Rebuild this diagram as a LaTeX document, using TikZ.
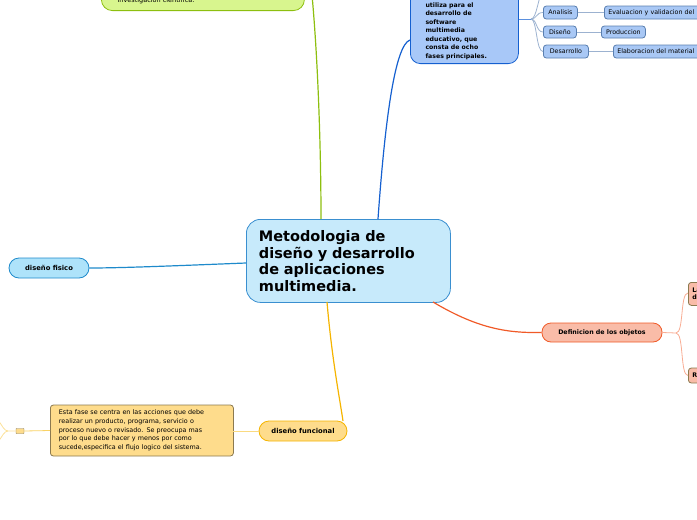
\documentclass[tikz,border=0pt]{standalone}
\usepackage{fontspec}
\setmainfont{DejaVu Sans}
\begin{document}
\begin{tikzpicture}[x=1pt,y=-1pt,
  box/.style={draw,rounded corners=3pt,line width=0.8pt,font=\fontsize{6.3}{7}\selectfont,inner sep=0pt},
  conn/.style={line width=1.2pt},
  sub/.style={line width=0.8pt}]
\definecolor{cfill}{HTML}{C7EAFB}\definecolor{cline}{HTML}{3A8FD0}
\definecolor{gfill}{HTML}{D8F58E}\definecolor{gline}{HTML}{8DBF0F}
\definecolor{bfill}{HTML}{A8C8F8}\definecolor{bline}{HTML}{1560D0}
\definecolor{sfill}{HTML}{A9C8F5}\definecolor{sline}{HTML}{5A7FB0}
\definecolor{ffill}{HTML}{AEE3FA}\definecolor{fline}{HTML}{1E8ACB}
\definecolor{rfill}{HTML}{F9BCA8}\definecolor{rline}{HTML}{F05A28}
\definecolor{yfill}{HTML}{FEDC8C}\definecolor{yline}{HTML}{F5B400}
\definecolor{tline}{HTML}{8C7A50}
\useasboundingbox (0,0) rectangle (697,520);
\clip (0,0) rectangle (697,520);
% central
\node[box,fill=cfill,draw=cline,rounded corners=14pt,minimum width=204pt,minimum height=83pt,anchor=north west,text width=185pt,align=left,font=\fontsize{14.5}{16.5}\selectfont\bfseries] (c) at (246,219) {\hspace*{3pt}Metodologia de\\\hspace*{3pt}diseño y desarrollo\\\hspace*{3pt}de aplicaciones\\\hspace*{3pt}multimedia.};
% green
\node[box,fill=gfill,draw=gline,rounded corners=11pt,minimum width=203pt,minimum height=40pt,anchor=south west] (g) at (101,11) {};
\node[font=\fontsize{6.5}{7}\selectfont,anchor=west] (gt) at (114,1) {Investigación científica.};
\coordinate (c1) at (321,219);
\draw[conn,gline] (c1) .. controls (321,150) and (318,60) .. (312,-5) coordinate (g1);
% blue
\node[box,fill=bfill,draw=bline,rounded corners=10pt,minimum width=108pt,minimum height=100pt,anchor=south west] (b) at (410,64) {};
\node[anchor=north west,align=left,font=\fontsize{6.2}{8.5}\selectfont\bfseries] (bt) at (422,-1) {utiliza para el\\desarrollo de\\software\\multimedia\\educativo, que\\consta de ocho\\fases principales.};
\coordinate (c2) at (378,219);
\draw[conn,bline] (c2) .. controls (385,120) and (395,45) .. (b.west|-0,40);
% blue children
\coordinate (bp) at (531,19);
\draw[sub,bline!70] (b.east|-0,19) -- (bp);
\node[box,fill=sfill,draw=sline,minimum width=34pt,minimum height=13pt,anchor=west] (an) at (543,12.5) {Analisis};
\node[box,fill=sfill,draw=sline,minimum width=33pt,minimum height=12pt,anchor=west] (di) at (543,32) {Diseño};
\node[box,fill=sfill,draw=sline,minimum width=45pt,minimum height=13pt,anchor=west] (de) at (543,51.5) {Desarrollo};
\node[box,fill=sfill,draw=sline,minimum width=100pt,minimum height=13pt,anchor=west,text width=96pt,align=left] (ev) at (604,12.5) {\hspace*{2pt}Evaluacion y validacion del};
\node[box,fill=sfill,draw=sline,minimum width=44pt,minimum height=12pt,anchor=west] (pr) at (601,32) {Produccion};
\node[box,fill=sfill,draw=sline,minimum width=100pt,minimum height=13pt,anchor=west,text width=96pt,align=left] (el) at (613,51.5) {\hspace*{2pt}Elaboracion del material};
\draw[sub,sline!60] (bp) .. controls (537,19) and (536,12.5) .. (an.west);
\draw[sub,sline!60] (bp) .. controls (537,19) and (536,32) .. (di.west);
\draw[sub,sline!60] (bp) .. controls (537,19) and (536,51.5) .. (de.west);
\draw[sub,sline!60] (bp) .. controls (537,19) and (538,-5) .. (543,-8) coordinate (up);
\draw[sub,sline!60] (an.east) -- (ev.west);
\draw[sub,sline!60] (di.east) -- (pr.west);
\draw[sub,sline!60] (de.east) -- (el.west);
% diseño fisico
\node[box,fill=ffill,draw=fline,rounded corners=10pt,minimum width=80pt,minimum height=20pt,font=\fontsize{6.8}{7}\selectfont\bfseries] (f) at (49,268) {diseño fisico};
\draw[conn,fline] (c.west|-0,263) .. controls (170,266) and (120,268) .. (f.east);
% definicion
\node[box,fill=rfill,draw=rline,rounded corners=9pt,minimum width=120pt,minimum height=19pt,font=\fontsize{6.3}{7}\selectfont\bfseries] (r) at (602,332.5) {Definicion de los objetos};
\draw[conn,rline] (433,302) .. controls (480,330) and (510,333) .. (r.west);
\coordinate (rp) at (676,333);
\draw[sub,rline!50] (r.east) -- (rp);
\node[box,fill=rfill,draw=tline,minimum width=20pt,minimum height=23pt,anchor=north west,text width=16pt,align=left,font=\fontsize{6.3}{7.5}\selectfont\bfseries] (l1) at (688,282) {\hspace*{2pt}La\\\hspace*{2pt}de};
\node[box,fill=rfill,draw=tline,minimum width=20pt,minimum height=15pt,anchor=west,text width=16pt,align=left,font=\fontsize{6.3}{7}\selectfont\bfseries] (l2) at (688,375.5) {\hspace*{2pt}Re};
\draw[sub,rline!50] (rp) .. controls (684,333) and (680,293) .. (l1.west|-0,293);
\draw[sub,rline!50] (rp) .. controls (684,333) and (680,375.5) .. (l2.west);
% diseño funcional
\node[box,fill=yfill,draw=yline,rounded corners=10pt,minimum width=88pt,minimum height=20pt,font=\fontsize{6.8}{7}\selectfont\bfseries] (y) at (303,431) {diseño funcional};
\draw[conn,yline] (327,302) .. controls (332,360) and (340,400) .. (343,421);
\node[box,fill=yfill,draw=tline,minimum width=183pt,minimum height=51pt,anchor=west,text width=174pt,align=left,font=\fontsize{6.4}{8.7}\selectfont] (t) at (50,430.5) {\hspace*{4pt}Esta fase se centra en las acciones que debe\\\hspace*{4pt}realizar un producto, programa, servicio o\\\hspace*{4pt}proceso nuevo o revisado. Se preocupa mas\\\hspace*{4pt}por lo que debe hacer y menos por como\\\hspace*{4pt}sucede,especifica el flujo logico del sistema.};
\draw[sub,yline!50] (y.west) -- (233,431);
\node[draw=tline,fill=yfill,minimum width=8pt,minimum height=5pt,inner sep=0pt,rounded corners=0.5pt] (sq) at (20,431) {};
\draw[sub,yline!60] (t.west) -- (sq.east);
\draw[sub,yline!40] (sq.west) -- (8,431) .. controls (4,431) and (2,425) .. (-2,420);
\draw[sub,yline!40] (8,431) .. controls (4,431) and (2,437) .. (-2,442);
\end{tikzpicture}
\end{document}
